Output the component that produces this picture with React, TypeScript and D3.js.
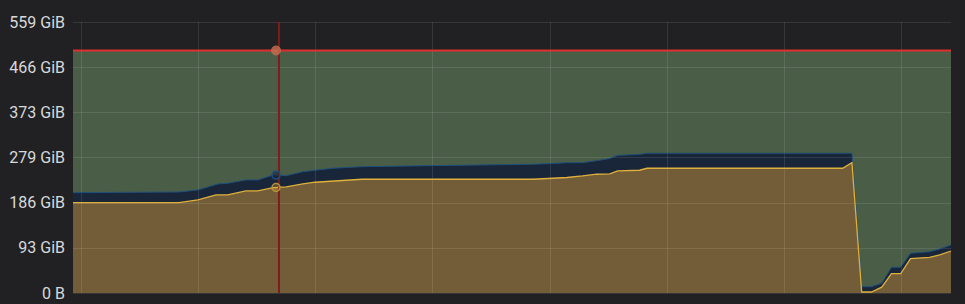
import React from "react";
import * as d3 from "d3";

// time in hours since start of the window, values in GiB
const usedSeries: [number, number][] = [
  [0, 186.3], [21.7, 186.3], [25.6, 191.8], [29.3, 202.2], [31.7, 202.2], [35.4, 210.4],
  [37.9, 210.4], [41.0, 217.2], [43.7, 218.7], [47.1, 224.8], [49.6, 228.4], [59.2, 234.5],
  [94.2, 234.5], [98.3, 236.6], [101.2, 238.2], [104.4, 241.3], [107.3, 244.9], [110.0, 245.5],
  [111.6, 251.7], [116.1, 253.1], [117.6, 257.2], [157.7, 257.2], [159.6, 268.8], [161.6, 2.1],
  [163.6, 2.1], [165.7, 12.0], [167.7, 40.0], [169.6, 40.0], [171.6, 71.0], [175.5, 73.6],
  [177.6, 78.4], [179.9, 86.6],
];

const allocSeries: [number, number][] = [
  [0, 206.9], [21.7, 208.3], [25.6, 212.5], [29.7, 224.8], [31.7, 226.3], [35.4, 233.1],
  [37.9, 233.1], [41.0, 243.4], [43.7, 242.0], [47.1, 250.2], [53.2, 257.2], [59.2, 260.5],
  [73.1, 262.6], [94.2, 265.5], [98.3, 267.1], [101.2, 268.8], [104.4, 268.8], [107.3, 272.9],
  [110.0, 277.4], [111.6, 283.6], [116.1, 286.1], [117.6, 288.2], [159.6, 288.2], [161.6, 13.0],
  [163.6, 13.0], [165.7, 20.0], [167.7, 53.0], [169.6, 53.0], [171.6, 81.9], [175.5, 85.2],
  [177.6, 90.8], [179.9, 99.0],
];

const totalSeries: [number, number][] = [[0, 500], [179.9, 500]];

const yTickValues = [0, 93.13, 186.26, 279.4, 372.53, 465.66, 558.79];
const yTickLabels = ["0 B", "93 GiB", "186 GiB", "279 GiB", "373 GiB", "466 GiB", "559 GiB"];

const firstMidnight = 1.64; // hours
const dayGridHours = [0, 1, 2, 3, 4, 5, 6, 7].map((d) => firstMidnight + d * 24);

const cursorHour = 42.2;
const hoverHour = 41.6;

const W = 965;
const H = 304;
const M = { left: 73, right: 14, top: 22, bottom: 11 };

function valueAt(series: [number, number][], t: number) {
  const i = d3.bisector((d: [number, number]) => d[0]).right(series, t);
  if (i <= 0) return series[0][1];
  if (i >= series.length) return series[series.length - 1][1];
  const a = series[i - 1], b = series[i];
  return d3.interpolateNumber(a[1], b[1])((t - a[0]) / (b[0] - a[0]));
}

export default function App() {
  const x = d3.scaleLinear().domain([0, 179.9]).range([M.left, W - M.right]);
  const y = d3.scaleLinear().domain([0, 558.79]).range([H - M.bottom, M.top]);

  const area = d3.area<[number, number]>().x((d) => x(d[0])).y0(y(0)).y1((d) => y(d[1]));
  const line = d3.line<[number, number]>().x((d) => x(d[0])).y((d) => y(d[1]));

  const grid = "rgba(255,255,255,0.1)";
  const hx = x(hoverHour);

  return (
    <svg
      width={W}
      height={H}
      style={{ position: "absolute", left: 0, top: 0, display: "block" }}
    >
      <rect x={0} y={0} width={W} height={H} fill="#212124" />
      <path d={area(totalSeries) || ""} fill="#4a5e47" />
      <path d={area(allocSeries) || ""} fill="#19263a" />
      <path d={area(usedSeries) || ""} fill="#725d38" />

      {yTickValues.map((v, i) => (
        <line key={"h" + i} x1={M.left} x2={W - M.right} y1={Math.round(y(v)) + 0.5} y2={Math.round(y(v)) + 0.5} stroke={grid} />
      ))}
      {dayGridHours.map((h, i) => (
        <line key={"v" + i} x1={Math.round(x(h)) + 0.5} x2={Math.round(x(h)) + 0.5} y1={M.top} y2={H - M.bottom} stroke={grid} />
      ))}

      <path d={line(allocSeries) || ""} fill="none" stroke="#1f4f7a" strokeWidth={1} />
      <path d={line(usedSeries) || ""} fill="none" stroke="#e0b03c" strokeWidth={1.3} />
      <path d={line(totalSeries) || ""} fill="none" stroke="#e02f2f" strokeWidth={2} />

      <line x1={x(cursorHour)} x2={x(cursorHour)} y1={M.top} y2={H - M.bottom} stroke="#7e1c1e" strokeWidth={2} />

      <circle cx={hx} cy={y(valueAt(totalSeries, hoverHour))} r={4.5} fill="rgba(200,110,80,0.8)" stroke="#b8664a" />
      <circle cx={hx} cy={y(valueAt(allocSeries, hoverHour))} r={4} fill="rgba(25,38,58,0.6)" stroke="#1f4f7a" strokeWidth={1.5} />
      <circle cx={hx} cy={y(valueAt(usedSeries, hoverHour))} r={4} fill="rgba(234,184,57,0.25)" stroke="#b8923a" strokeWidth={1.5} />

      {yTickValues.map((v, i) => (
        <text
          key={"t" + i}
          x={65}
          y={y(v) + 5.5}
          textAnchor="end"
          fill="#d8d9da"
          style={{ fontFamily: "Roboto, sans-serif", fontSize: 16 }}
        >
          {yTickLabels[i]}
        </text>
      ))}
    </svg>
  );
}
